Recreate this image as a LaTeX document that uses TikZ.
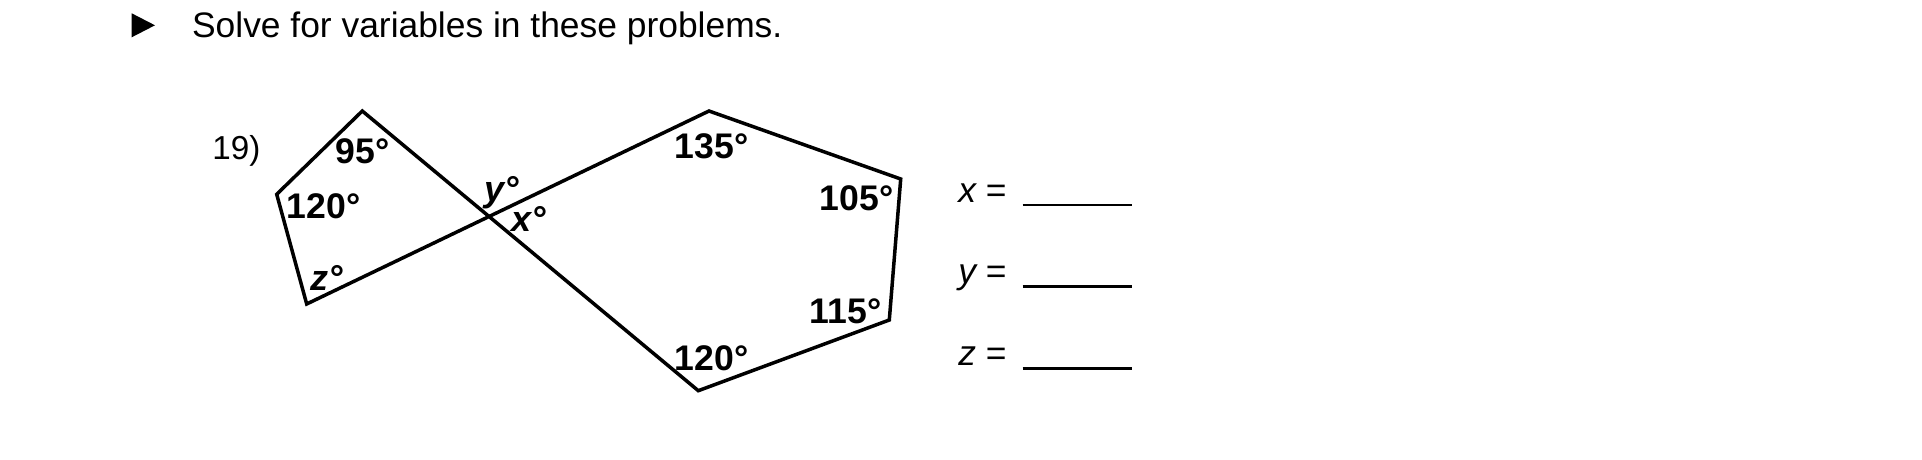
\documentclass[tikz,border=0pt]{standalone}
\usepackage{fontspec}
\setmainfont{Liberation Sans}
\begin{document}
\begin{tikzpicture}[x=0.5pt,y=-0.5pt,
  edge/.style={line width=1.75pt,line join=miter},
  anglab/.style={anchor=base,inner sep=0pt,font=\fontsize{17.8}{20}\selectfont\bfseries},
  varlab/.style={anchor=base,inner sep=0pt,font=\fontsize{18}{21}\selectfont\bfseries\itshape},
  eqlab/.style={anchor=base west,inner sep=0pt,font=\fontsize{17.7}{21}\selectfont},
  blank/.style={line width=1.4pt}]
\path[use as bounding box] (0,0) rectangle (1922,460);
% header
\fill (131.7,13.3) -- (155,25.3) -- (131.7,37.3) -- cycle;
\node[anchor=base west,inner sep=0pt,font=\fontsize{17.7}{21}\selectfont] (hdr) at (191.7,37.3) {Solve for variables in these problems.};
\node[anchor=base west,inner sep=0pt,font=\fontsize{16.6}{19}\selectfont] (num) at (212,160) {19)};
% vertices
\coordinate (qt) at (362.3,111);
\coordinate (ql) at (276.7,194.3);
\coordinate (qb) at (306.7,304);
\coordinate (ht) at (709,111);
\coordinate (hr1) at (900.7,179);
\coordinate (hr2) at (889.3,320);
\coordinate (hb) at (698.3,390.7);
\draw[edge] (qb) -- (ht) -- (hr1) -- (hr2) -- (hb) -- (qt) -- (ql) -- cycle;
% angle labels
\node[anglab] (a95) at (362.5,163.3) {95°};
\node[anglab] (a120l) at (323.5,218.3) {120°};
\node[varlab] (lz) at (327,290) {z°};
\node[varlab] (ly) at (502,201.5) {y°};
\node[varlab] (lx) at (529,231.7) {x°};
\node[anglab] (a135) at (711.7,158.3) {135°};
\node[anglab] (a105) at (856.7,210) {105°};
\node[anglab] (a115) at (845.8,323.3) {115°};
\node[anglab] (a120b) at (711.7,370) {120°};
% answers
\node[eqlab] (ex) at (958,202) {\itshape x\upshape\ =};
\node[eqlab] (ey) at (958,283) {\itshape y\upshape\ =};
\node[eqlab] (ez) at (958,365) {\itshape z\upshape\ =};
\draw[blank] (1022.7,205) -- (1131.7,205);
\draw[blank] (1022.7,286.7) -- (1131.7,286.7);
\draw[blank] (1022.7,368.3) -- (1131.7,368.3);
\end{tikzpicture}
\end{document}
